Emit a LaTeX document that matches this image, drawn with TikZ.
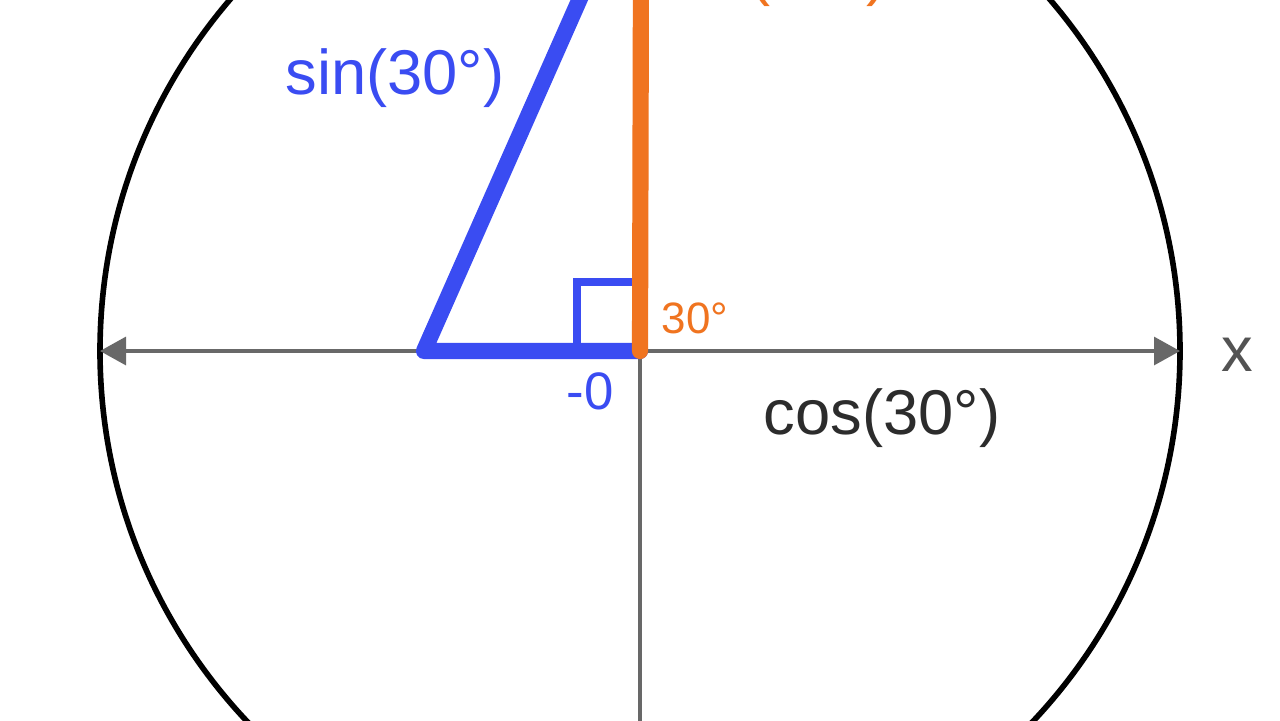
\documentclass[tikz,border=0pt]{standalone}
\usepackage{fontspec}
\setmainfont{Liberation Sans}
\usetikzlibrary{arrows.meta}
\definecolor{sinblue}{RGB}{58,76,242}
\definecolor{cosorange}{RGB}{240,116,32}
\definecolor{axisgray}{RGB}{104,104,104}
\definecolor{labelgray}{RGB}{44,44,44}
\tikzset{
  axis/.style={axisgray, line width=0.9pt},
  leg/.style={line width=4.6pt, line cap=round, line join=round},
  lbl/.style={font=\fontsize{18}{18}\selectfont, inner sep=0pt}
}
\begin{document}
\begin{tikzpicture}[x=0.1mm, y=-0.1mm]
\useasboundingbox (0,0) rectangle (1280,720);
\clip (0,0) rectangle (1280,720);
\fill[white] (0,0) rectangle (1280,720);
\coordinate (O) at (640,351);
\coordinate (A) at (424,351);
\coordinate (T) at (597,-40);
\coordinate (U) at (641,-40);
\coordinate (xl) at (100,351);
\coordinate (xr) at (1180,351);
\coordinate (yt) at (640,-10);
\coordinate (yb) at (640,730);
% unit circle
\draw[line width=1.6pt] (O) circle (540);
% axes
\draw[axis, {Triangle[length=2.6mm, width=2.8mm]}-{Triangle[length=2.6mm, width=2.8mm]}] (xl) -- (xr);
\draw[axis] (yt) -- (yb);
% right angle and legs
\draw[sinblue, line width=2.3pt] (641,282) -| (577,351);
\draw[sinblue, leg] (T) -- (A) -- (O);
\draw[cosorange, leg] (U) -- (O);
% labels
\node[lbl, sinblue] (sinlbl) at (395,78) {sin(30°)};
\node[lbl, labelgray] (coslbl) at (882,418) {cos(30°)};
\node[lbl, cosorange, anchor=base west] (toplbl) at (668,-7) {sin(30°)};
\node[lbl, cosorange, font=\fontsize{12.5}{12.5}\selectfont] (anglbl) at (695,318) {30°};
\node[lbl, sinblue, font=\fontsize{15}{15}\selectfont] (zerolbl) at (590,391) {-0};
\node[lbl, axisgray!80!black] (xlbl) at (1237,355) {x};
\end{tikzpicture}
\end{document}
